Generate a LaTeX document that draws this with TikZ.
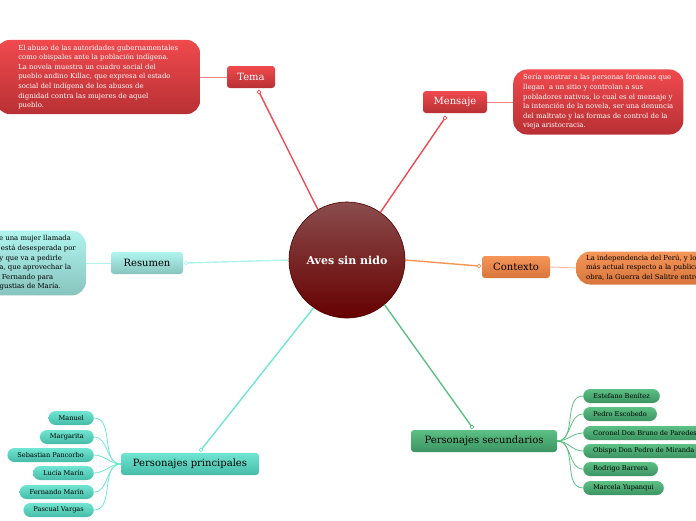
\documentclass[tikz,border=0pt]{standalone}
\usepackage{fontspec}
\setmainfont{DejaVu Serif}
\usetikzlibrary{shapes.geometric}
\definecolor{rd}{HTML}{F04A4E}
\definecolor{rdd}{HTML}{B83034}
\definecolor{cy}{HTML}{B0F4EE}
\definecolor{cyd}{HTML}{88C4BE}
\definecolor{orc}{HTML}{F59558}
\definecolor{ord}{HTML}{D8763C}
\definecolor{gr}{HTML}{5CC084}
\definecolor{grd}{HTML}{3C9462}
\definecolor{tl}{HTML}{70E6D2}
\definecolor{tld}{HTML}{46BCA8}
\tikzset{
 lab/.style={rounded corners=3pt,minimum height=22pt,inner xsep=6pt,font=\fontsize{10}{12}\selectfont},
 txt/.style={rounded corners=14pt,align=left,inner xsep=10pt,inner ysep=5pt,font=\fontsize{6.9}{9.6}\selectfont},
 kid/.style={rounded corners=7pt,minimum height=14pt,inner xsep=10pt,font=\fontsize{6.6}{7}\selectfont},
 dot/.style={circle,draw,fill=white,inner sep=1.3pt,line width=0.8pt},
}
\begin{document}
\begin{tikzpicture}[x=1pt,y=-1pt]
\useasboundingbox (0,0) rectangle (696,520);
% center
\node[circle,minimum size=116pt,draw=black!70!red,line width=0.6pt,top color=red!35!black!70!white,bottom color=red!40!black,text=white,font=\bfseries\fontsize{11}{12}\selectfont] (c) at (347,260) {Aves sin nido};
% Tema
\node[lab,top color=rd,bottom color=rdd,text=white,minimum width=48pt] (tema) at (251,77) {Tema};
\node[txt,top color=rd,bottom color=rdd,text=white,minimum width=204pt,minimum height=71pt,anchor=west] (temat) at (-4,77) {El abuso de las autoridades gubernamentales\\como obispales ante la población indígena.\\La novela muestra un cuadro social del\\pueblo andino Killac, que expresa el estado\\social del indígena de los abusos de\\dignidad contra las mujeres de aquel\\pueblo.};
\draw[rd!70,line width=0.8pt] (tema.west) -- (temat.east);
\coordinate (tb) at (259,92);
\draw[rd,line width=1.4pt] (tb) -- (c.120);
\node[dot,draw=rd] at (tb) {};
% Mensaje
\node[lab,top color=rd,bottom color=rdd,text=white,minimum width=64pt] (men) at (455,102) {Mensaje};
\node[txt,top color=rd,bottom color=rdd,text=white,minimum height=61pt,anchor=west] (ment) at (513,102) {Sería mostrar a las personas foráneas que\\llegan \ a un sitio y controlan a sus\\pobladores nativos, lo cual es el mensaje y\\la intención de la novela, ser una denuncia\\del maltrato y las formas de control de la\\vieja aristocracia.};
\draw[rd!70,line width=0.8pt] (men.east) -- (ment.west);
\coordinate (mb) at (445,118);
\draw[rd,line width=1.4pt] (mb) -- (c.55);
\node[dot,draw=rd] at (mb) {};
% Resumen
\node[lab,top color=cy,bottom color=cyd,minimum width=72pt] (res) at (147,263) {Resumen};
\node[txt,top color=cy,bottom color=cyd,minimum height=62pt,anchor=east] (rest) at (86,263) {La historia de una mujer llamada\\Marcela que está desesperada por\\la situación, y que va a pedirle\\ayuda a Lucía, que aprovechar la\\presencia de Fernando para\\aliviar las angustias de María.};
\draw[cy,line width=0.8pt] (res.west) -- (rest.east);
\coordinate (rb) at (186,263);
\draw[cy,line width=1.4pt] (rb) -- (c.west);
\node[dot,draw=cy] at (rb) {};
% Contexto
\node[lab,top color=orc,bottom color=ord,minimum width=68pt] (con) at (516,267) {Contexto};
\node[txt,top color=orc,bottom color=ord,anchor=west,inner ysep=3pt,minimum height=33pt] (cont) at (576,268) {La independencia del Perú, y lo\\más actual respecto a la publicación de la\\obra, la Guerra del Salitre entre Perú y Chile.};
\draw[orc!70,line width=0.8pt] (con.east) -- (cont.west);
\coordinate (cb) at (479,266);
\draw[orc,line width=1.4pt] (cb) -- (c.east);
\node[dot,draw=orc] at (cb) {};
% Personajes secundarios
\node[lab,top color=gr,bottom color=grd,minimum width=146pt] (ps) at (484,441) {Personajes secundarios};
\coordinate (sb) at (472,427);
\draw[gr,line width=1.4pt] (sb) -- (c.-50);
\node[dot,draw=gr] at (sb) {};
\foreach \t/\y/\n in {Estefano Benítez/396/s1,Pedro Escobedo/414/s2,Coronel Don Bruno de Paredes/433/s3,Obispo Don Pedro de Miranda/451/s4,Rodrigo Barrera/469/s5,Marcela Yupanqui/488/s6}{
 \node[kid,top color=gr,bottom color=grd,anchor=west] (\n) at (583,\y) {\t};
 \draw[gr,line width=0.8pt] (ps.east) to[out=0,in=180] (\n.west);
}
% Personajes principales
\node[lab,top color=tl,bottom color=tld,minimum width=138pt] (pp) at (190,464) {Personajes principales};
\coordinate (pb) at (201,450);
\draw[tl,line width=1.4pt] (pb) -- (c.-125);
\node[dot,draw=tl] at (pb) {};
\foreach \t/\y/\n in {Manuel/418/p1,Margarita/437/p2,Sebastian Pancorbo/455/p3,Lucía Marín/473/p4,Fernando Marín/492/p5,Pascual Vargas/510/p6}{
 \node[kid,top color=tl,bottom color=tld,anchor=east] (\n) at (94,\y) {\t};
 \draw[tl,line width=0.8pt] (pp.west) to[out=180,in=0] (\n.east);
}
\end{tikzpicture}
\end{document}
